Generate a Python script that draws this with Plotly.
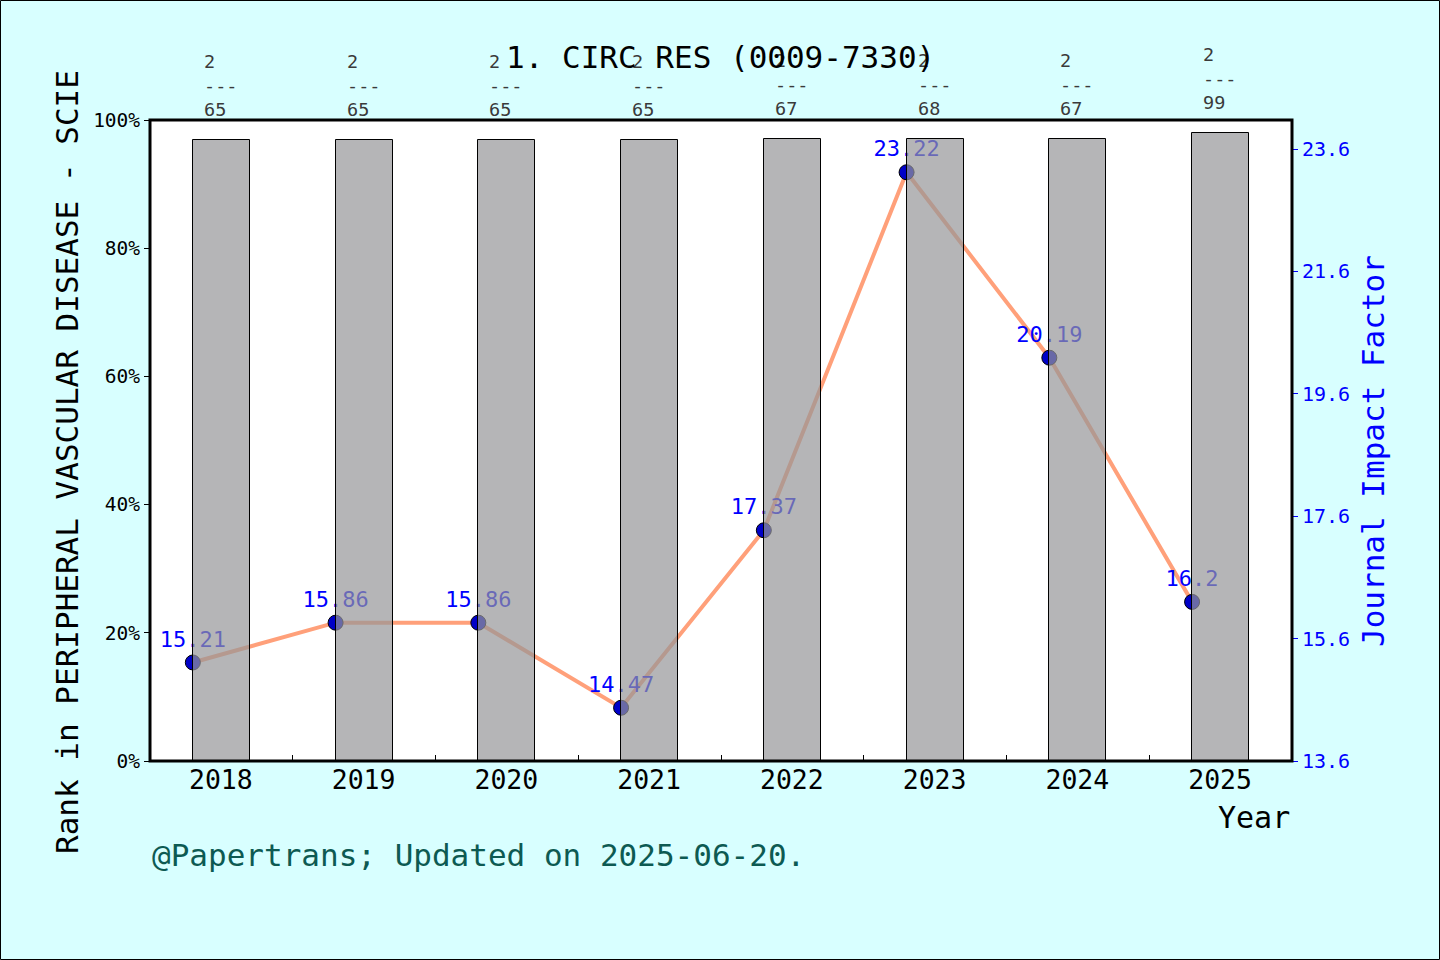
import plotly.graph_objects as go

years = [2018, 2019, 2020, 2021, 2022, 2023, 2024, 2025]
impact_factor = [15.21, 15.86, 15.86, 14.47, 17.37, 23.22, 20.19, 16.2]
if_labels = ["15.21", "15.86", "15.86", "14.47", "17.37", "23.22", "20.19", "16.2"]
rank = [2, 2, 2, 2, 2, 2, 2, 2]
total = [65, 65, 65, 65, 67, 68, 67, 99]
rank_pct = [96.9, 96.9, 96.9, 96.9, 97.0, 97.1, 97.0, 98.0]

FONT = "DejaVu Sans Mono"
W, H = 1440, 960
ML, MR, MT, MB = 150, 148, 120, 199
PW, PH = W - ML - MR, H - MT - MB


def px_x(x):
    return (x - ML) / PW


def px_y(y):
    return (H - MB - y) / PH


fig = go.Figure()

fig.add_trace(go.Scatter(
    x=years, y=impact_factor, yaxis="y2",
    mode="lines+markers+text",
    line=dict(color="#FFA07A", width=4),
    marker=dict(size=15, color="#0000c8", line=dict(color="black", width=1)),
    text=if_labels, textposition="top center",
    textfont=dict(family=FONT, size=22, color="#0000ff"),
    cliponaxis=False, showlegend=False,
))

fig.add_trace(go.Bar(
    x=years, y=rank_pct, yaxis="y",
    width=0.4, offset=0,
    marker=dict(color="rgba(150,150,153,0.7)", line=dict(color="black", width=1)),
    showlegend=False,
))

annotations = []
for yr, r, t, p in zip(years, rank, total, rank_pct):
    annotations.append(dict(
        x=yr, y=p, xref="x", yref="y", xanchor="left", yanchor="bottom",
        xshift=9, yshift=18,
        text=f"{r}<br>---<br>{t}", showarrow=False, align="left",
        font=dict(family=FONT, size=18.5, color="#3a3a3a"),
    ))

annotations += [
    dict(x=px_x(720), y=px_y(57), xref="paper", yref="paper", xanchor="center", yanchor="middle",
         text="1. CIRC RES (0009-7330)", showarrow=False,
         font=dict(family=FONT, size=31, color="black")),
    dict(x=0, y=px_y(855), xref="paper", yref="paper", xanchor="left", yanchor="middle",
         text="@Papertrans; Updated on 2025-06-20.", showarrow=False,
         font=dict(family=FONT, size=31, color="#0d5a52")),
    dict(x=1, y=px_y(817), xref="paper", yref="paper", xanchor="right", yanchor="middle",
         text="Year", showarrow=False,
         font=dict(family=FONT, size=30, color="black")),
    dict(x=px_x(67), y=px_y(462), xref="paper", yref="paper", xanchor="center", yanchor="middle",
         text="Rank in PERIPHERAL VASCULAR DISEASE - SCIE", textangle=-90, showarrow=False,
         font=dict(family=FONT, size=31, color="black")),
    dict(x=px_x(1373), y=px_y(451), xref="paper", yref="paper", xanchor="center", yanchor="middle",
         text="Journal Impact Factor", textangle=-90, showarrow=False,
         font=dict(family=FONT, size=31, color="#0000ff")),
]

shapes = [
    dict(type="rect", xref="paper", yref="paper", x0=0, y0=0, x1=1, y1=1,
         line=dict(color="black", width=3), layer="above"),
    dict(type="rect", xref="paper", yref="paper",
         x0=px_x(0.5), x1=px_x(W - 0.5), y0=px_y(H - 0.5), y1=px_y(0.5),
         line=dict(color="black", width=1), layer="above"),
]

fig.update_layout(
    width=W, height=H,
    margin=dict(l=ML, r=MR, t=MT, b=MB, pad=0),
    paper_bgcolor="#d8ffff", plot_bgcolor="white",
    font=dict(family=FONT),
    xaxis=dict(
        range=[2017.7, 2025.7], tickmode="array", tickvals=years,
        ticktext=[str(y) for y in years], ticks="", ticklabelshift=28,
        tickfont=dict(family=FONT, size=26.5, color="black"),
        showgrid=False, zeroline=False, showline=False,
        minor=dict(tickmode="linear", tick0=2018.7, dtick=1, ticks="inside",
                   ticklen=6, tickcolor="black", tickwidth=1, showgrid=False),
    ),
    yaxis=dict(
        range=[0, 100], overlaying="y2", side="left",
        tickmode="array", tickvals=[0, 20, 40, 60, 80, 100],
        ticktext=["0%", "20%", "40%", "60%", "80%", "100%"],
        ticks="outside", ticklen=5, tickcolor="black",
        tickfont=dict(family=FONT, size=19.5, color="black"),
        showgrid=False, zeroline=False, showline=False,
    ),
    yaxis2=dict(
        range=[13.6, 24.074], side="right", anchor="x",
        tickmode="array", tickvals=[13.6, 15.6, 17.6, 19.6, 21.6, 23.6],
        ticktext=["13.6", "15.6", "17.6", "19.6", "21.6", "23.6"],
        ticks="outside", ticklen=5, tickcolor="#0000ff",
        tickfont=dict(family=FONT, size=20, color="#0000ff"),
        showgrid=False, zeroline=False, showline=False,
    ),
    annotations=annotations,
    shapes=shapes,
    bargap=0,
)

fig.write_html("out.html")
